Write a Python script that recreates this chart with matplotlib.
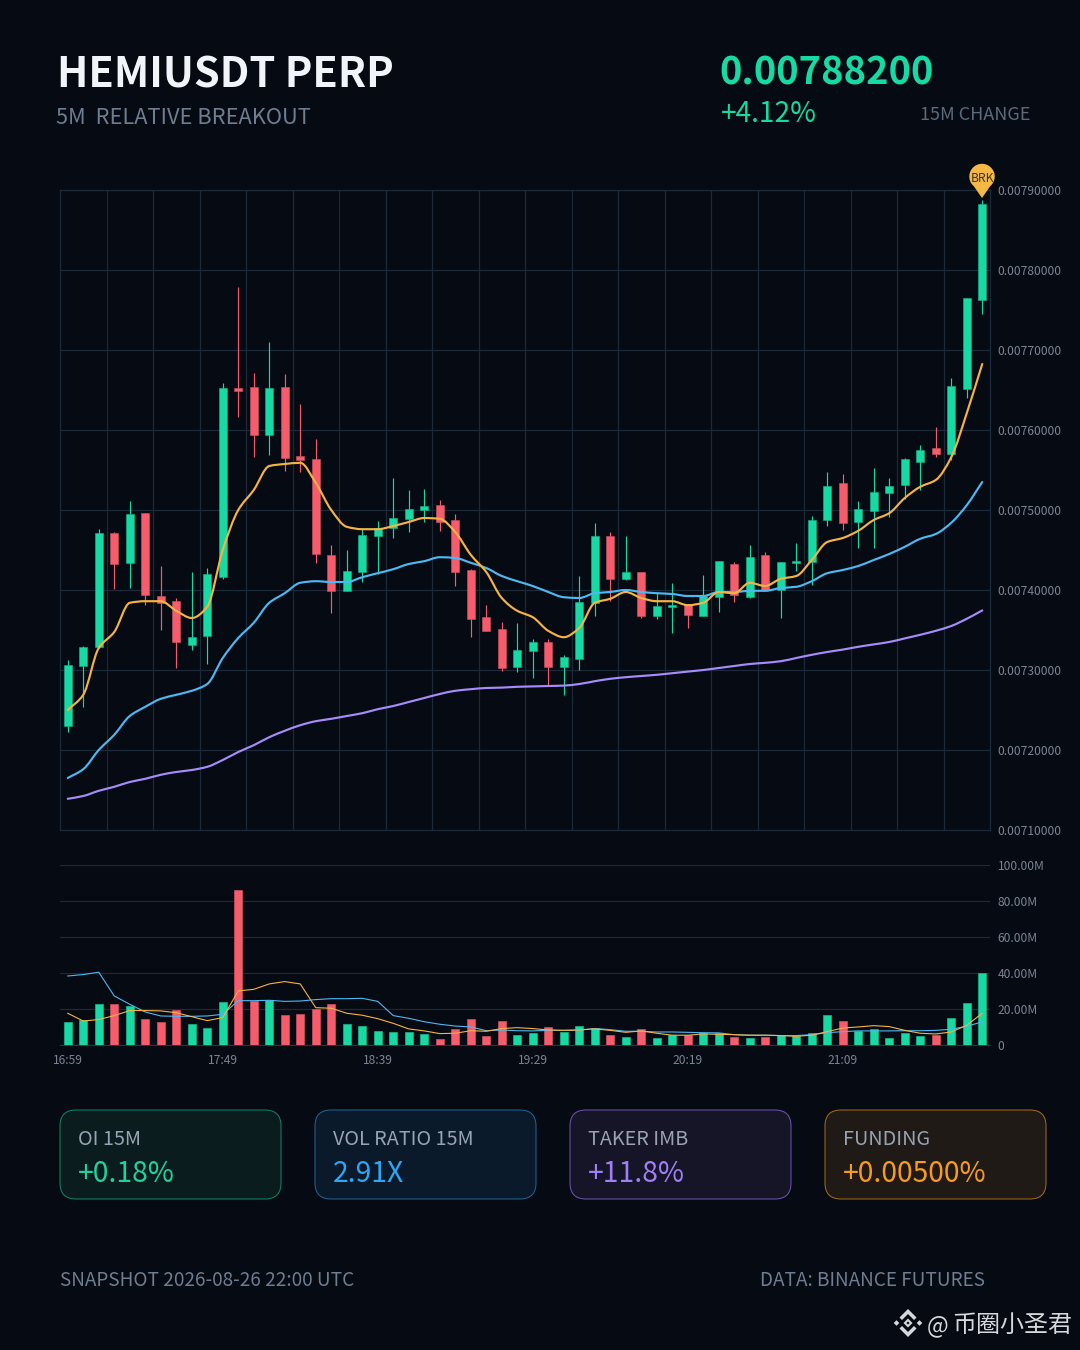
import matplotlib
matplotlib.use('Agg')
import matplotlib.pyplot as plt
import numpy as np
from matplotlib.patches import FancyBboxPatch, PathPatch, Polygon
from matplotlib.path import Path

plt.rcParams['font.family'] = ['Noto Sans CJK SC', 'DejaVu Sans']

# prices are in units of 0.00001
opens = [723.0,730.5,732.9,747.1,743.4,749.6,739.25,738.6,733.1,734.25,
         741.6,765.25,765.4,759.4,765.4,756.75,756.4,744.4,739.9,742.25,
         746.75,747.75,748.9,750.0,750.6,748.75,742.5,736.6,735.1,730.4,
         732.4,733.5,730.4,731.4,738.4,746.75,741.4,742.25,736.75,737.9,
         738.25,736.75,739.1,743.25,739.1,744.4,740.0,743.4,743.5,748.75,
         753.4,748.5,749.9,752.1,753.1,756.0,757.75,757.0,765.1,776.25]
highs = [731.25,733.0,747.6,747.25,751.1,749.6,743.0,739.0,742.25,742.75,
         765.9,777.9,767.1,771.0,767.0,763.25,758.9,745.6,745.0,747.75,
         748.6,754.0,752.5,752.6,751.25,749.5,742.6,738.1,736.0,735.9,
         733.9,733.9,731.9,741.75,748.4,747.25,746.75,742.25,739.75,740.9,
         738.25,741.9,743.6,743.5,745.6,744.75,743.5,745.9,749.25,754.75,
         754.5,751.1,755.25,754.0,756.5,758.1,760.4,766.5,776.5,788.75]
lows = [722.25,725.4,732.75,740.1,740.25,738.1,735.0,730.25,732.5,730.75,
        741.4,761.6,756.6,756.9,754.9,754.75,743.4,737.1,739.9,741.0,
        742.0,746.5,747.25,748.5,747.4,740.5,734.1,734.9,729.9,729.75,
        729.0,728.1,726.9,730.0,736.75,738.6,741.25,736.5,736.4,734.6,
        735.25,736.75,737.25,738.5,739.0,740.0,736.5,742.4,740.6,748.0,
        747.5,745.25,745.25,749.1,751.4,752.5,756.6,756.25,764.0,774.5]
closes = [730.6,732.9,747.1,743.25,749.5,739.4,738.4,733.5,734.1,742.0,
          765.25,764.9,759.4,765.25,756.5,756.25,744.5,739.9,742.4,746.9,
          747.75,749.0,750.1,750.5,748.5,742.25,736.4,734.9,730.25,732.5,
          733.5,730.4,731.6,738.5,746.75,741.4,742.25,736.75,738.0,738.1,
          736.9,739.25,743.6,739.4,744.1,740.0,743.5,743.6,748.75,753.0,
          748.4,750.1,752.25,753.0,756.4,757.5,757.0,765.5,776.5,788.2]

ema_fast = [725.0,726.9,732.75,734.75,738.4,738.6,738.6,737.4,736.5,737.9,
            745.0,750.0,752.5,755.5,755.75,755.9,753.4,750.0,747.9,747.6,
            747.6,748.0,748.5,749.0,748.9,747.25,744.4,742.25,739.0,737.4,
            736.6,734.9,734.1,735.25,738.4,738.9,739.75,739.0,738.6,738.6,
            738.1,738.4,739.75,739.6,740.9,740.5,741.4,741.75,743.75,746.0,
            746.5,747.4,748.75,749.6,751.5,752.9,753.75,756.6,762.1,768.25]
ema_mid = [716.5,717.6,720.0,721.9,724.25,725.4,726.4,726.9,727.4,728.25,
           731.5,734.0,735.9,738.4,739.6,740.9,741.1,741.0,741.0,741.6,
           742.1,742.6,743.25,743.6,744.1,744.0,743.4,742.75,741.75,741.1,
           740.5,739.75,739.1,739.0,739.6,739.75,740.0,739.75,739.6,739.5,
           739.25,739.25,739.75,739.75,739.9,739.9,740.25,740.4,741.1,742.1,
           742.5,743.0,743.75,744.5,745.4,746.4,747.0,748.4,750.6,753.5]
ema_slow = [713.9,714.25,714.9,715.4,716.0,716.4,716.9,717.25,717.5,717.9,
            718.75,719.75,720.6,721.6,722.4,723.1,723.6,723.9,724.25,724.6,
            725.1,725.5,726.0,726.5,727.0,727.4,727.6,727.75,727.8,727.9,
            727.95,728.0,728.05,728.25,728.6,728.9,729.1,729.25,729.4,729.6,
            729.8,730.0,730.25,730.5,730.75,730.9,731.1,731.5,731.9,732.25,
            732.55,732.9,733.2,733.5,733.95,734.4,734.9,735.5,736.4,737.45]

# volume in millions
volume = [12.8,13.9,23.1,22.8,21.7,14.4,12.8,19.4,11.7,9.6,
          23.9,86.1,24.6,25.4,16.7,17.4,20.2,23.1,11.7,10.9,
          7.8,7.6,7.2,6.3,3.7,8.9,14.8,5.0,13.3,5.6,
          6.7,10.2,7.6,10.6,9.6,5.6,4.4,8.9,4.1,5.9,
          5.6,6.7,6.7,4.6,4.3,4.6,5.9,5.0,6.7,17.0,
          13.5,8.1,9.3,4.3,6.7,5.0,5.9,15.0,23.3,40.4]
vol_fast = [17.8,13.5,14.3,16.5,19.3,19.3,19.1,18.1,15.9,13.7,
            15.4,30.2,31.1,34.1,35.4,34.1,20.9,20.6,17.8,16.7,
            14.8,12.2,9.1,8.0,6.5,6.7,8.1,7.8,9.3,9.8,
            9.3,8.5,8.3,8.5,9.1,8.3,7.2,8.0,6.7,5.6,
            5.6,6.3,6.1,5.9,5.6,5.6,5.4,5.0,5.6,7.6,
            9.6,10.2,10.9,10.4,8.3,6.7,6.3,7.4,11.1,17.8]
vol_slow = [38.5,39.3,40.6,27.4,22.8,18.5,16.3,16.1,16.1,16.3,
            17.2,24.8,24.8,25.0,24.4,24.6,25.4,25.9,25.9,26.1,
            24.4,16.5,15.0,13.1,11.7,10.7,10.2,8.1,8.5,8.1,
            8.0,8.3,8.3,8.5,9.3,8.7,7.8,7.8,7.4,7.4,
            7.2,7.0,6.9,5.9,5.6,5.6,5.4,5.4,5.9,7.0,
            7.6,8.0,8.0,8.0,8.1,8.1,8.3,8.9,10.6,13.0]

price_ticks = [710,720,730,740,750,760,770,780,790]
vol_ticks = [0,20,40,60,80,100]
vol_tick_labels = ['0','20.00M','40.00M','60.00M','80.00M','100.00M']
time_idx = [0,10,20,30,40,50]
time_labels = ['16:59','17:49','18:39','19:29','20:19','21:09']

cards = ['OI 15M','VOL RATIO 15M','TAKER IMB','FUNDING']
card_values = ['+0.18%','2.91X','+11.8%','+0.00500%']

BG = '#060a12'
GRID = '#1c2938'
GREEN = '#16d9a3'
RED = '#f65c6c'
GREEN_EDGE = '#12b98c'
RED_EDGE = '#cf525f'
TICK = '#7a8494'
SLATE = '#6f7d90'

W, H = 1080, 1350
fig = plt.figure(figsize=(W/100, H/100), dpi=100, facecolor=BG)


def px_axes(x0, y0, x1, y1):
    return fig.add_axes([x0/W, 1-y1/H, (x1-x0)/W, (y1-y0)/H], facecolor=BG)


def smooth_line(ax, xs, ys, color, lw):
    # monotone bezier through the points, flat at turning points so it does not overshoot
    ys = np.asarray(ys, float)
    d = np.diff(ys)
    m = np.zeros(len(ys))
    m[0], m[-1] = d[0], d[-1]
    for i in range(1, len(ys)-1):
        if d[i-1]*d[i] > 0:
            m[i] = 2*d[i-1]*d[i]/(d[i-1]+d[i])
    verts = [(xs[0], ys[0])]
    codes = [Path.MOVETO]
    for i in range(len(ys)-1):
        verts += [(xs[i]+1/3, ys[i]+m[i]/3), (xs[i+1]-1/3, ys[i+1]-m[i+1]/3), (xs[i+1], ys[i+1])]
        codes += [Path.CURVE4]*3
    ax.add_patch(PathPatch(Path(verts, codes), fill=False, edgecolor=color, lw=lw, zorder=5,
                           capstyle='round', joinstyle='round'))


x = np.arange(len(closes))
opens = np.array(opens)
closes = np.array(closes)
up = closes >= opens
colors = [GREEN if u else RED for u in up]
edges = [GREEN_EDGE if u else RED_EDGE for u in up]

# price panel
ax = px_axes(60, 190, 990, 830)
ax.set_xlim(-0.5, 59.5)
ax.set_ylim(710, 790)
ax.vlines(x, lows, highs, colors=colors, lw=0.85, zorder=3)
ax.bar(x, np.maximum(np.abs(closes-opens), 0.2), bottom=np.minimum(opens, closes), width=0.5,
       color=colors, edgecolor=edges, lw=0.4, zorder=4)
smooth_line(ax, x, ema_slow, '#a78bfa', 1.55)
smooth_line(ax, x, ema_mid, '#4db8f2', 1.55)
smooth_line(ax, x, ema_fast, '#f5b342', 1.55)
ax.set_xticks(np.arange(-0.5, 60, 3))
ax.set_yticks(price_ticks)
ax.set_yticklabels([f'{v*1e-5:.8f}' for v in price_ticks])
ax.yaxis.tick_right()
ax.grid(True, color=GRID, lw=0.9, zorder=0)
ax.set_axisbelow(True)
ax.tick_params(axis='y', length=0, pad=5.5, labelsize=8.7, labelcolor=TICK)
ax.tick_params(axis='x', length=0, labelbottom=False)
for s in ax.spines.values():
    s.set_color(GRID)
    s.set_linewidth(0.9)

# volume panel
vx = px_axes(60, 865.3, 990, 1045.3)
vx.set_xlim(-0.5, 59.5)
vx.set_ylim(0, 100)
vx.bar(x, volume, width=0.54, color=colors, edgecolor=edges, lw=0.5, zorder=3)
vx.plot(x, vol_slow, color='#4db8f2', lw=0.8, zorder=4)
vx.plot(x, vol_fast, color='#f5b342', lw=0.8, zorder=5)
vx.set_yticks(vol_ticks)
vx.set_yticklabels(vol_tick_labels)
vx.yaxis.tick_right()
vx.set_xticks(time_idx)
vx.set_xticklabels(time_labels)
vx.grid(True, axis='y', color=GRID, lw=0.9, zorder=0)
vx.set_axisbelow(True)
vx.tick_params(axis='y', length=0, pad=5.5, labelsize=8.7, labelcolor=TICK)
vx.tick_params(axis='x', length=0, pad=6.5, labelsize=8.7, labelcolor=TICK)
for name, s in vx.spines.items():
    s.set_visible(name == 'bottom')
    s.set_color('#2a3444')

# everything else in pixel coords
ov = fig.add_axes([0, 0, 1, 1], zorder=10)
ov.set_xlim(0, W)
ov.set_ylim(H, 0)
ov.axis('off')
ov.patch.set_alpha(0)


def label(xp, yp, s, px, color, weight='normal', ha='left'):
    ov.text(xp, yp, s, fontsize=px*0.72, color=color, fontweight=weight, ha=ha, va='center_baseline')


label(57, 71, 'HEMIUSDT PERP', 41.5, '#f1f4f8', 'bold')
label(56.5, 115, '5M  RELATIVE BREAKOUT', 21.8, SLATE)
label(719.5, 69, '0.00788200', 38.1, GREEN, 'bold')
label(720.5, 111, '+4.12%', 28.1, GREEN)
label(920, 113, '15M CHANGE', 18, '#5d6a7b')

card_x = [60, 315, 570, 825]
card_face = ['#0b1c1e', '#0b1a2a', '#161528', '#1f1a16']
card_edge = ['#138060', '#1f6294', '#6a52ae', '#a0681c']
card_val = ['#1fd39c', '#2ea6f5', '#a07ef5', '#f79a20']
for cx, name, val, fc, ec, vc in zip(card_x, cards, card_values, card_face, card_edge, card_val):
    ov.add_patch(FancyBboxPatch((cx+16, 1110+16), 221-32, 89-32, boxstyle='round,pad=16,rounding_size=16',
                                fc=fc, ec=ec, lw=0.75))
    label(cx+18, 1137, name, 19.8, '#98a2b3')
    label(cx+18, 1170, val, 28.3, vc)

label(60, 1278, 'SNAPSHOT 2026-08-26 22:00 UTC', 19, SLATE)
label(760, 1278, 'DATA: BINANCE FUTURES', 19, SLATE)

# breakout pin over the last candle
cx, cy, r = 982, 176.5, 12.7
t = np.radians(np.linspace(-50, 230, 60))
pin = np.column_stack([cx+r*np.cos(t), cy-r*np.sin(t)])
ov.add_patch(Polygon(np.vstack([pin, [[cx, 198]]]), closed=True, fc='#f6b845', ec='none'))
ov.text(cx, cy+2, 'BRK', fontsize=8.7, color='#3a3320', ha='center', va='center')

# watermark logo
mx, my = 908, 1323
logo = '#d6d8dc'
top = np.array([[0,-14],[8.5,-5.5],[6,-3],[0,-9],[-6,-3],[-8.5,-5.5]])
ov.add_patch(Polygon(top+[mx, my], closed=True, fc=logo))
ov.add_patch(Polygon(top*[1,-1]+[mx, my], closed=True, fc=logo))
dia = np.array([[0,-1],[1,0],[0,1],[-1,0]])
ov.add_patch(Polygon(dia*4.5+[mx, my], closed=True, fc=logo))
ov.add_patch(Polygon(dia*1.6+[mx, my], closed=True, fc=BG))
ov.add_patch(Polygon(dia*2.8+[mx-11.5, my], closed=True, fc=logo))
ov.add_patch(Polygon(dia*2.8+[mx+11.5, my], closed=True, fc=logo))
label(927, 1323, '@', 23, logo)
label(952, 1323, '币圈小圣君', 24, logo)

fig.savefig('out.png', dpi=100, facecolor=BG)
